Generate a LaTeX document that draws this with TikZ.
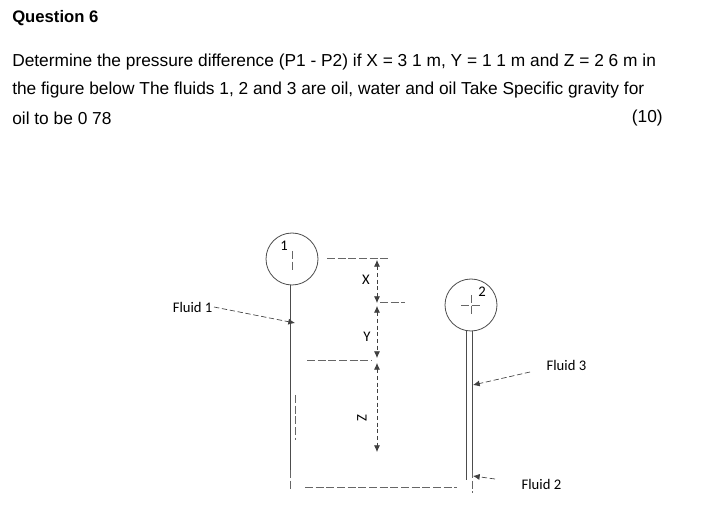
\documentclass[tikz,border=0pt]{standalone}
\usepackage{fontspec}
\usetikzlibrary{arrows.meta}
\setmainfont{Liberation Sans}
\newfontfamily\carlfont{Carlito}
\begin{document}
\begin{tikzpicture}[x=0.75pt,y=-0.75pt,
 ln/.style={black!70,line width=0.6pt},
 dl/.style={black!60,line width=0.5pt,dash pattern=on 6pt off 2pt},
 tx/.style={font=\fontsize{13pt}{15pt}\selectfont,anchor=west,inner sep=0},
 lb/.style={font=\carlfont\fontsize{11pt}{12pt}\selectfont,inner sep=1pt},
 ar/.style={-{Latex[length=5pt,width=4.5pt]},black!75,line width=0.5pt,dash pattern=on 4pt off 2pt},
 da/.style={{Latex[length=5pt,width=4.5pt]}-{Latex[length=5pt,width=4.5pt]},black!75,line width=0.5pt,dash pattern=on 3pt off 2pt}]
\useasboundingbox (0,0) rectangle (726,524);
\node[tx,font=\bfseries\fontsize{12.5pt}{15pt}\selectfont] (q) at (12,18) {Question 6};
\node[tx] (l1) at (12,62) {Determine the pressure difference (P1 - P2) if X = 3 1 m, Y = 1 1 m and Z = 2 6 m in};
\node[tx] (l2) at (12,90) {the figure below  The fluids 1, 2 and 3 are oil, water and oil  Take Specific gravity for};
\node[tx] (l3) at (12,118) {oil to be 0 78};
\node[tx,anchor=east] (mk) at (663,118) {(10)};
% bulbs
\node[draw,ln,circle,minimum size=52pt*0.75,inner sep=0] (c1) at (292,259) {};
\node[draw,ln,circle,minimum size=52pt*0.75,inner sep=0] (c2) at (471,305) {};
\node[lb] (n1) at (284,246) {1};
\node[lb] (n2) at (482,292) {2};
\draw[dl] (292,251)--(292,270);
\draw[dl] (471,295)--(471,315) (461,305)--(481,305);
% tubes
\draw[ln] (290,285)--(290,470);
\draw[dl] (290,470)--(290,490);
\draw[dl] (295,395)--(295,440);
\draw[ln] (472,331)--(472,470);
\draw[dl] (472,470)--(472,493);
\draw[ln] (466,331)--(466,480);
\draw[dl] (305,487)--(457,487);
% reference lines
\draw[dl] (327,258)--(388,258);
\draw[dl] (380,302)--(405,302);
\draw[dl] (307,360)--(372,360);
% dimensions
\coordinate (d0) at (377,260);
\coordinate (d1) at (377,303);
\coordinate (d2) at (377,306);
\coordinate (d3) at (377,358);
\coordinate (d4) at (377,363);
\coordinate (d5) at (377,452);
\draw[da] (d0)--(d1);
\draw[da] (d2)--(d3);
\draw[da] (d4)--(d5);
\node[lb] (X) at (366,280) {X};
\node[lb] (Y) at (367,337) {Y};
\node[lb,rotate=90] (Z) at (362,418) {Z};
% fluid labels
\node[lb,anchor=east] (f1) at (214,307) {Fluid 1};
\coordinate (f1e) at (295,323);
\draw[ar] (f1.east)--(f1e);
\node[lb,anchor=west] (f3) at (545,365) {Fluid 3};
\coordinate (f3e) at (473,385);
\draw[ar] (530,372)--(f3e);
\node[lb,anchor=west] (f2) at (520,484) {Fluid 2};
\coordinate (f2e) at (473,476);
\draw[ar] (495,479)--(f2e);
\end{tikzpicture}
\end{document}
